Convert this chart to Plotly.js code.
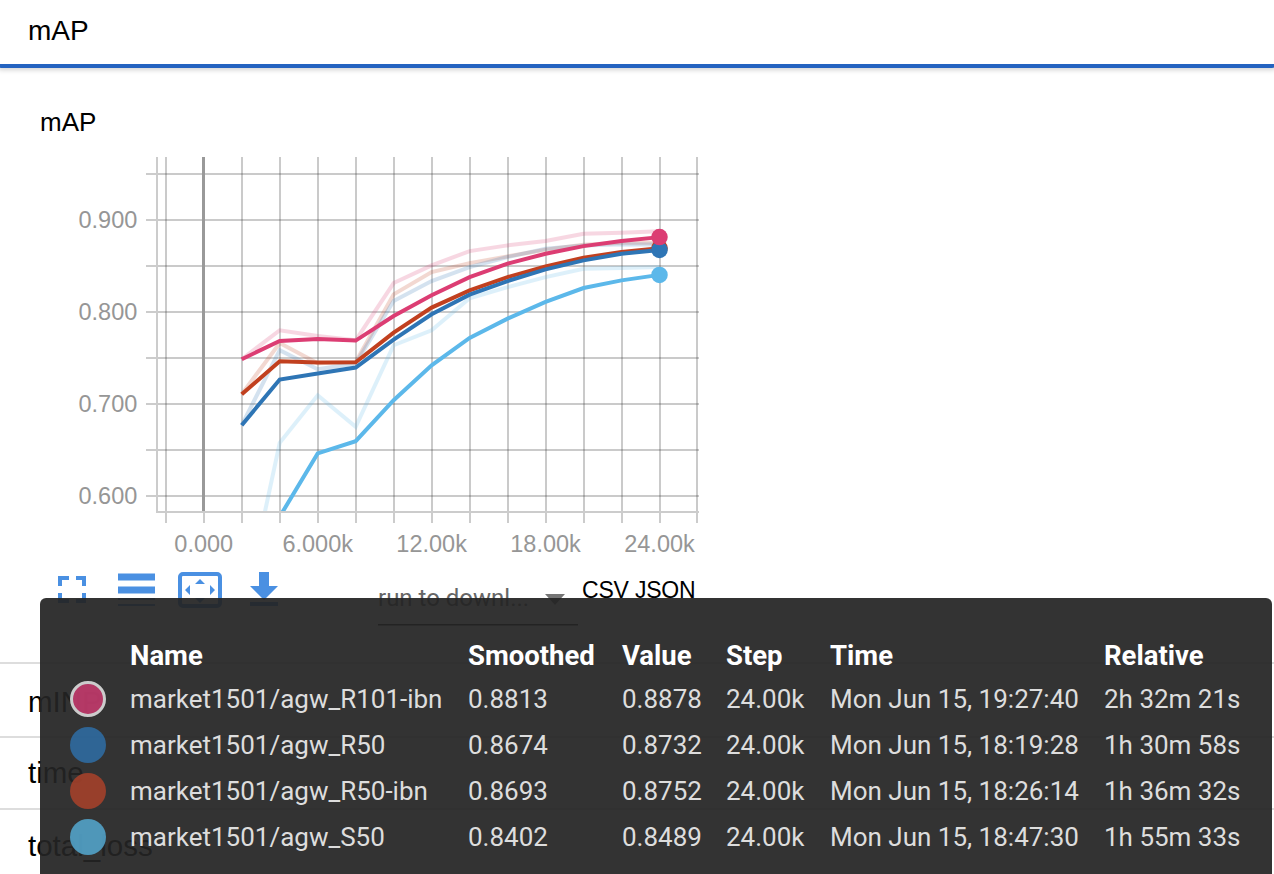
<!DOCTYPE html>
<html><head><meta charset="utf-8">
<script src="https://cdn.plot.ly/plotly-3.0.1.min.js"></script>
<style>
html,body{margin:0;padding:0;background:#fff;width:1274px;height:874px;overflow:hidden;font-family:"Liberation Sans",sans-serif}
#plot{position:absolute;left:0;top:0;width:1274px;height:874px}
.t{position:absolute;white-space:nowrap;color:#000}
#bar{position:absolute;left:-4px;top:-5px;width:1282px;height:69px;border-bottom:4px solid #2463c0;border-radius:6px;box-shadow:0 2px 5px rgba(0,0,0,.18);background:#fff}
.sep{position:absolute;left:0;width:1274px;height:2px;background:#ddd}
#tip{position:absolute;left:40px;top:598px;width:1232px;height:290px;background:rgba(36,36,36,.93);border-radius:6px;font-family:Roboto,sans-serif}
#tip .c{position:absolute;white-space:nowrap;color:#ddd;font-size:26px;line-height:30px}
#tip .h{color:#fff;font-weight:700;font-size:27.5px}
#tip .d{position:absolute;width:36px;height:36px;border-radius:50%;box-sizing:border-box;left:30px;opacity:.9}
svg.i{position:absolute;left:0;top:0}
</style></head><body>
<div id="plot"></div>
<div id="bar"></div>
<div class="t" style="left:28px;top:15px;font-size:28px">mAP</div>
<div class="t" style="left:40px;top:107px;font-size:26px">mAP</div>
<svg class="i" width="1274" height="874" style="pointer-events:none">
  <g fill="none" stroke="#4a90e2" stroke-width="4">
    <path d="M60 586V578H69M76 578H84V586M84 593V601H76M69 601H60V593"/>
    <path d="M118 577H155M118 590H155" stroke-width="7"/>
    <path d="M118 599H155M118 605H155" stroke-width="2"/>
    <rect x="180" y="574" width="40" height="32" rx="3"/>
  </g>
  <g fill="#4a90e2">
    <path d="M200 579l5 5h-10zM200 603l5-5h-10zM185 590l5-5v10zM215 590l-5-5v10z"/>
    <path d="M259 572h10v14h9l-14 14-14-14h9z"/>
    <rect x="250" y="602" width="28" height="4"/>
  </g>
  <path d="M545 594h20l-10 11z" fill="#757575"/>
  <rect x="378" y="624" width="200" height="1.5" fill="#222"/>
</svg>
<div class="t" style="left:378px;top:584px;font-size:24px;color:#666;font-family:Roboto,sans-serif">run to downl...</div>
<div class="t" style="left:582px;top:577px;font-size:23px;letter-spacing:-.2px">CSV JSON</div>
<div class="sep" style="top:662px"></div>
<div class="sep" style="top:736px"></div>
<div class="sep" style="top:808px"></div>
<div class="t" style="left:28px;top:685px;font-size:29.5px">mINP</div>
<div class="t" style="left:28px;top:756px;font-size:29.5px">time</div>
<div class="t" style="left:28px;top:829px;font-size:29.5px">total_loss</div>
<div id="tip"></div>
<script>
const steps = [2000,4000,6000,8000,10000,12000,14000,16000,18000,20000,22000,24000];

const names = ["market1501/agw_R50-ibn","market1501/agw_S50","market1501/agw_R50","market1501/agw_R101-ibn"];
const colors = ["#c1401f","#5cb8ea","#2e75b5","#dc3d73"];

const rawIbn  = [.7103,.7661,.7440,.7454,.8190,.8433,.8530,.8603,.8676,.8730,.8752,.8752];
const rawS50  = [.4648,.6574,.7092,.6748,.7636,.7799,.8147,.8269,.8378,.8469,.8476,.8489];
const rawR50  = [.6766,.7582,.7375,.7437,.8117,.8335,.8487,.8596,.8687,.8723,.8734,.8732];
const rawR101 = [.7484,.7799,.7737,.7690,.8313,.8505,.8661,.8723,.8770,.8850,.8860,.8878];

const smIbn  = [.7103,.7462,.7448,.7451,.7774,.8046,.8234,.8378,.8495,.8589,.8650,.8693];
const smS50  = [.4648,.5770,.6459,.6592,.7038,.7418,.7715,.7926,.8107,.8259,.8342,.8402];
const smR50  = [.6766,.7263,.7328,.7393,.7698,.7973,.8187,.8335,.8462,.8560,.8632,.8674];
const smR101 = [.7484,.7683,.7704,.7687,.7954,.8180,.8378,.8524,.8632,.8715,.8770,.8813];

const xTicks = [-2000,0,2000,4000,6000,8000,10000,12000,14000,16000,18000,20000,22000,24000,26000];
const xLabels = ["","0.000","","","6.000k","","","12.00k","","","18.00k","","","24.00k",""];
const yTicks = [.6,.65,.7,.75,.8,.85,.9,.95];
const yLabels = ["0.600","","0.700","","0.800","","0.900",""];

const rawAll = [rawIbn,rawS50,rawR50,rawR101];
const smAll = [smIbn,smS50,smR50,smR101];
const traces = [];
rawAll.forEach((r,i)=>traces.push({x:steps,y:r,mode:"lines",name:names[i],opacity:.2,line:{color:colors[i],width:4},showlegend:false,hoverinfo:"skip"}));
smAll.forEach((r,i)=>traces.push({x:steps,y:r,mode:"lines",name:names[i],line:{color:colors[i],width:4},showlegend:false}));
smAll.forEach((r,i)=>traces.push({x:[steps[steps.length-1]],y:[r[r.length-1]],mode:"markers",name:names[i],marker:{color:colors[i],size:16.5},showlegend:false,cliponaxis:false}));

const gridc="rgba(60,60,60,.27)";
const tickFont={family:"Liberation Sans, sans-serif",size:23.5,color:"#969696"};
Plotly.newPlot("plot",traces,{
  width:1274,height:874,paper_bgcolor:"rgba(0,0,0,0)",plot_bgcolor:"rgba(0,0,0,0)",
  margin:{l:158,r:575,t:157,b:363,pad:0},
  xaxis:{range:[-2410,26080],tickmode:"array",tickvals:xTicks,ticktext:xLabels,tickfont:tickFont,tickangle:0,ticklabelstandoff:1,
    showgrid:true,gridcolor:gridc,gridwidth:2,ticks:"outside",ticklen:10,tickwidth:2,tickcolor:"#ccc",
    showline:true,linecolor:"#ccc",linewidth:2,zeroline:true,zerolinecolor:"#999",zerolinewidth:3},
  yaxis:{range:[.5832,.9685],tickmode:"array",tickvals:yTicks,ticktext:yLabels,tickfont:tickFont,ticklabelstandoff:4,
    showgrid:true,gridcolor:gridc,gridwidth:2,ticks:"outside",ticklen:10,tickwidth:2,tickcolor:"#ccc",
    showline:true,linecolor:"#ccc",linewidth:2,zeroline:false},
  showlegend:false,hovermode:false
},{displayModeBar:false,staticPlot:true});

// Tooltip table
const heads = ["Name","Smoothed","Value","Step","Time","Relative"];
const colX = [90,428,582,686,790,1064];
const dotColors = ["#c23a6c","#2f6aa0","#a3402a","#52a2c8"];
const rowNames = ["market1501/agw_R101-ibn","market1501/agw_R50","market1501/agw_R50-ibn","market1501/agw_S50"];
const rowSmoothed = ["0.8813","0.8674","0.8693","0.8402"];
const rowValue = ["0.8878","0.8732","0.8752","0.8489"];
const rowStep = ["24.00k","24.00k","24.00k","24.00k"];
const rowTime = ["Mon Jun 15, 19:27:40","Mon Jun 15, 18:19:28","Mon Jun 15, 18:26:14","Mon Jun 15, 18:47:30"];
const rowRel = ["2h 32m 21s","1h 30m 58s","1h 36m 32s","1h 55m 33s"];
const rowY = [86,132,178,224];
const tip=document.getElementById("tip");
heads.forEach((h,i)=>{const e=document.createElement("div");e.className="c h";e.textContent=h;e.style.left=colX[i]+"px";e.style.top="43px";tip.appendChild(e);});
rowNames.forEach((n,r)=>{
  const d=document.createElement("div");d.className="d";d.style.background=dotColors[r];d.style.top=(rowY[r]-3)+"px";
  if(r===0)d.style.border="3px solid #ddd";tip.appendChild(d);
  [n,rowSmoothed[r],rowValue[r],rowStep[r],rowTime[r],rowRel[r]].forEach((v,i)=>{
    const e=document.createElement("div");e.className="c";e.textContent=v;e.style.left=colX[i]+"px";e.style.top=rowY[r]+"px";tip.appendChild(e);});
});
</script></body></html>
